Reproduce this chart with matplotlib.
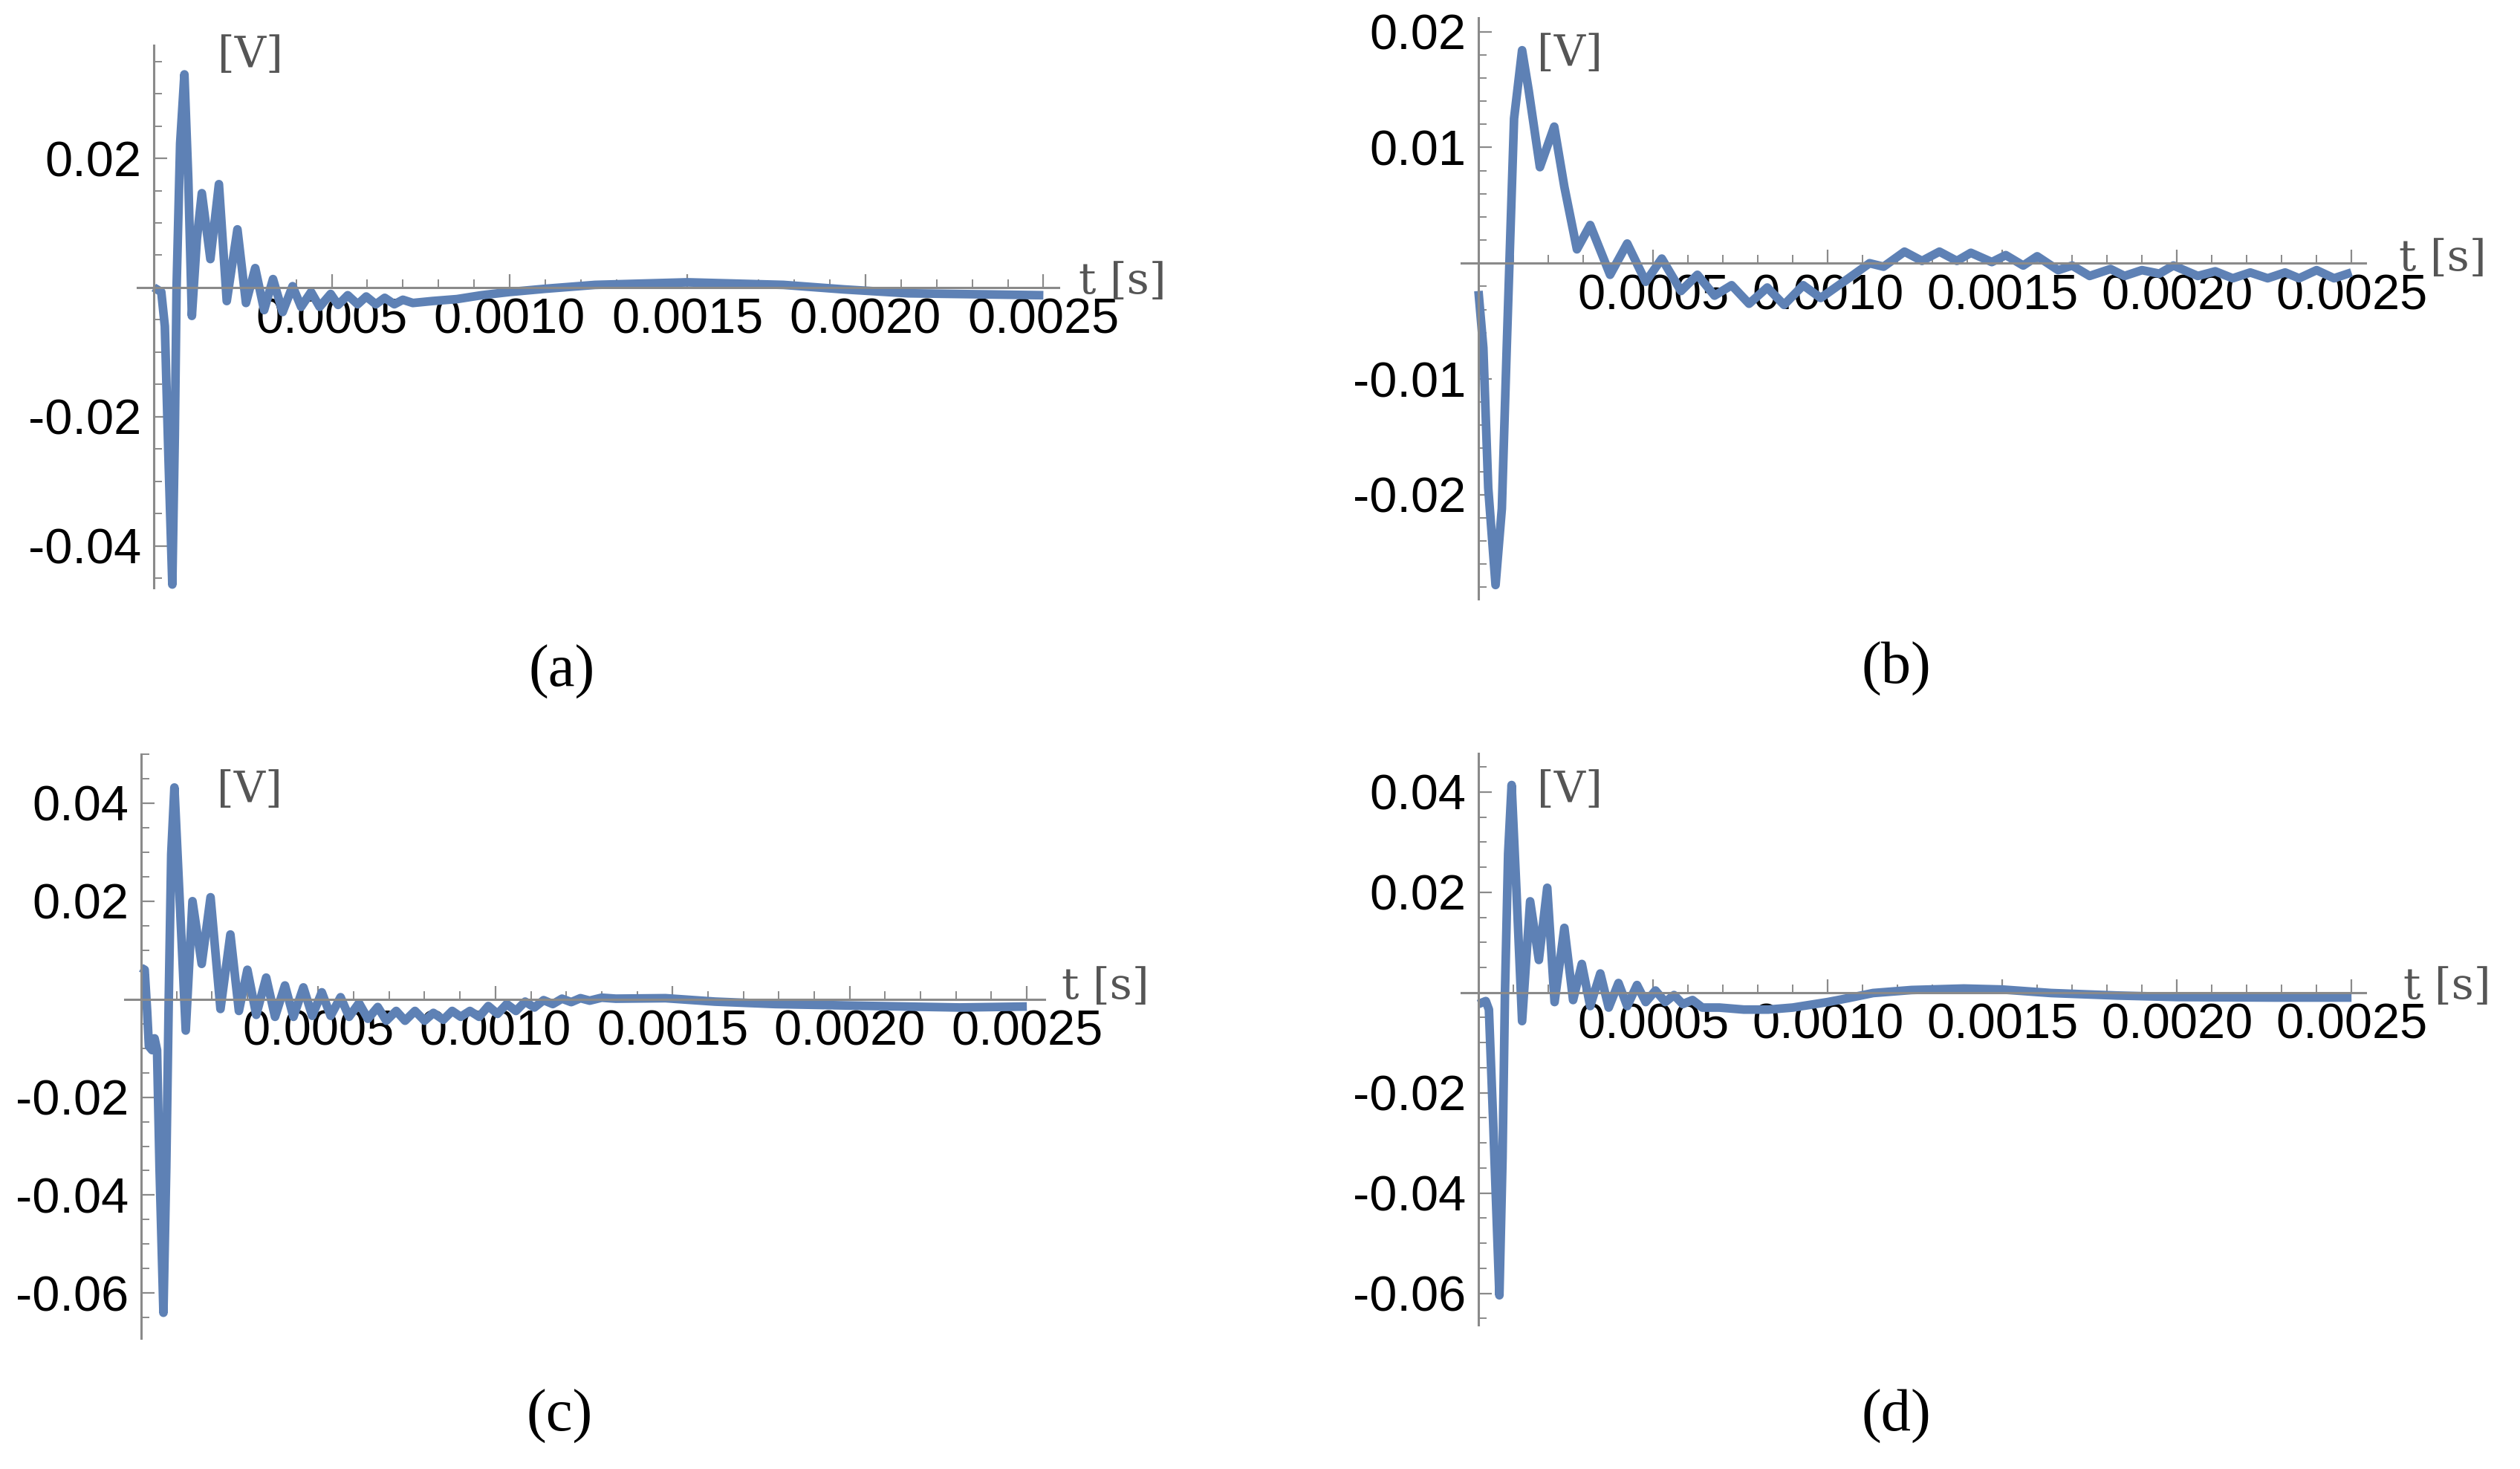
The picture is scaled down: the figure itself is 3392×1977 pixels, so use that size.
import numpy as np
import matplotlib
matplotlib.use("Agg")
import matplotlib.pyplot as plt
from matplotlib.ticker import MultipleLocator, FixedLocator

plt.rcParams['axes.unicode_minus'] = False

# ---- data (t in s, v in V) ----
t_a = [0, 2.1e-5, 3.1e-5, 4.1e-5, 5.2e-5, 5.9e-5, 6.4e-5, 7.4e-5, 8.6e-5, 9.7e-5,
       1.07e-4, 1.21e-4, 1.35e-4, 1.59e-4, 1.83e-4, 2.05e-4, 2.35e-4, 2.59e-4, 2.85e-4, 3.10e-4,
       3.35e-4, 3.62e-4, 3.90e-4, 4.14e-4, 4.42e-4, 4.66e-4, 4.97e-4, 5.18e-4, 5.45e-4, 5.73e-4,
       5.97e-4, 6.24e-4, 6.49e-4, 6.76e-4, 7.00e-4, 7.28e-4, 7.83e-4, 8.52e-4, 9.21e-4, 1.0e-3,
       1.1e-3, 1.24e-3, 1.5e-3, 1.77e-3, 1.94e-3, 2.12e-3, 2.5e-3]
v_a = [0, -0.0007, -0.006, -0.026, -0.0460, -0.023, 0, 0.0223, 0.0330, 0.0166,
       -0.0044, 0.0075, 0.0146, 0.0044, 0.0160, -0.0021, 0.0090, -0.0024, 0.0030, -0.0035,
       0.0013, -0.0038, 0.0002, -0.0030, -0.0007, -0.0030, -0.0010, -0.0027, -0.0012, -0.0026,
       -0.0014, -0.0026, -0.0016, -0.0026, -0.0019, -0.0024, -0.0021, -0.0018, -0.0012, -0.0007,
       -0.0002, 0.0004, 0.0008, 0.0004, -0.0003, -0.0009, -0.0012]

t_b = [0, 1.4e-5, 2.8e-5, 4.9e-5, 6.7e-5, 8.1e-5, 9.2e-5, 1.02e-4, 1.25e-4, 1.44e-4,
       1.76e-4, 2.17e-4, 2.46e-4, 2.82e-4, 3.20e-4, 3.77e-4, 4.26e-4, 4.79e-4, 5.25e-4, 5.80e-4,
       6.27e-4, 6.76e-4, 7.25e-4, 7.75e-4, 8.27e-4, 8.75e-4, 9.3e-4, 9.8e-4, 1.06e-3, 1.12e-3,
       1.16e-3, 1.22e-3, 1.27e-3, 1.32e-3, 1.37e-3, 1.41e-3, 1.47e-3, 1.51e-3, 1.56e-3, 1.60e-3,
       1.66e-3, 1.70e-3, 1.75e-3, 1.81e-3, 1.85e-3, 1.90e-3, 1.95e-3, 1.99e-3, 2.06e-3, 2.11e-3,
       2.16e-3, 2.21e-3, 2.26e-3, 2.31e-3, 2.35e-3, 2.40e-3, 2.45e-3, 2.50e-3]
v_b = [-0.0024, -0.0073, -0.0194, -0.0278, -0.0212, -0.0073, 0.0031, 0.0125, 0.0184, 0.0149,
       0.0083, 0.0118, 0.0066, 0.0012, 0.0033, -0.0010, 0.0017, -0.0016, 0.0004, -0.0024,
       -0.0010, -0.0028, -0.0019, -0.0035, -0.0021, -0.0036, -0.0019, -0.0030, -0.0013, 0.0000,
       -0.0003, 0.0010, 0.0002, 0.0010, 0.0002, 0.0009, 0.0001, 0.0007, -0.0002, 0.0006,
       -0.0006, -0.0002, -0.0011, -0.0005, -0.0011, -0.0006, -0.0009, -0.0002, -0.0011, -0.0007,
       -0.0013, -0.0008, -0.0013, -0.0008, -0.0013, -0.0006, -0.0013, -0.0008]

t_c = [0, 1.0e-5, 1.7e-5, 2.2e-5, 3.1e-5, 3.8e-5, 4.5e-5, 5.2e-5, 6.3e-5, 7.1e-5,
       7.8e-5, 8.5e-5, 9.4e-5, 1.08e-4, 1.26e-4, 1.45e-4, 1.71e-4, 1.96e-4, 2.24e-4, 2.52e-4,
       2.76e-4, 3.00e-4, 3.25e-4, 3.53e-4, 3.78e-4, 4.06e-4, 4.30e-4, 4.58e-4, 4.83e-4, 5.10e-4,
       5.35e-4, 5.63e-4, 5.87e-4, 6.15e-4, 6.40e-4, 6.68e-4, 6.92e-4, 7.20e-4, 7.45e-4, 7.73e-4,
       8.00e-4, 8.25e-4, 8.53e-4, 8.78e-4, 9.02e-4, 9.28e-4, 9.54e-4, 9.80e-4, 1.006e-3, 1.032e-3,
       1.058e-3, 1.084e-3, 1.110e-3, 1.136e-3, 1.162e-3, 1.188e-3, 1.214e-3, 1.240e-3, 1.266e-3, 1.30e-3,
       1.34e-3, 1.48e-3, 1.62e-3, 1.79e-3, 2.0e-3, 2.31e-3, 2.5e-3]
v_c = [0.0064, 0.0060, -0.0024, -0.0096, -0.0104, -0.0080, -0.0104, -0.0344, -0.0640, -0.0344,
       0, 0.0296, 0.0432, 0.0216, -0.0064, 0.0200, 0.0072, 0.0208, -0.0020, 0.0132,
       -0.0024, 0.0060, -0.0032, 0.0044, -0.0036, 0.0028, -0.0036, 0.0024, -0.0034, 0.0014,
       -0.0034, 0.0004, -0.0036, -0.0008, -0.0040, -0.0016, -0.0044, -0.0024, -0.0044, -0.0024,
       -0.0044, -0.0028, -0.0042, -0.0024, -0.0036, -0.0024, -0.0036, -0.0014, -0.0030, -0.0010,
       -0.0024, -0.0005, -0.0017, -0.0002, -0.0010, 0.0001, -0.0006, 0.0002, -0.0003, 0.0003,
       0.0001, 0.0002, -0.0005, -0.0010, -0.0013, -0.0017, -0.0015]

t_d = [0, 2.1e-5, 3.0e-5, 4.2e-5, 6.0e-5, 6.9e-5, 7.6e-5, 8.5e-5, 9.5e-5, 1.09e-4,
       1.25e-4, 1.48e-4, 1.73e-4, 1.97e-4, 2.18e-4, 2.46e-4, 2.71e-4, 2.96e-4, 3.20e-4, 3.49e-4,
       3.73e-4, 4.01e-4, 4.26e-4, 4.54e-4, 4.79e-4, 5.07e-4, 5.35e-4, 5.60e-4, 5.85e-4, 6.13e-4,
       6.41e-4, 6.90e-4, 7.60e-4, 8.30e-4, 9.00e-4, 1.0e-3, 1.06e-3, 1.13e-3, 1.24e-3, 1.39e-3,
       1.50e-3, 1.64e-3, 1.83e-3, 2.0e-3, 2.28e-3, 2.5e-3]
v_d = [-0.0023, -0.0017, -0.0034, -0.0255, -0.0604, -0.0330, 0, 0.0277, 0.0414, 0.0201,
       -0.0057, 0.0182, 0.0065, 0.0209, -0.0019, 0.0129, -0.0015, 0.0057, -0.0027, 0.0038,
       -0.0030, 0.0019, -0.0027, 0.0015, -0.0019, 0.0004, -0.0019, -0.0005, -0.0023, -0.0015,
       -0.0030, -0.0030, -0.0034, -0.0034, -0.0030, -0.0019, -0.0011, -0.0001, 0.0005, 0.0008,
       0.0006, -0.0001, -0.0006, -0.0009, -0.0010, -0.0010]

x_major = [0.0005, 0.0010, 0.0015, 0.0020, 0.0025]
x_labels = ['0.0005', '0.0010', '0.0015', '0.0020', '0.0025']

# ---- layout (pixel boxes in the 3392x1977 image) ----
W, H = 3392, 1977
panels = [
    # t, v, box(x0,x1,y_top,y_bot), xlim, ylim, y majors, y labels, y minor step, [V] pos, t[s] pos, caption pos, caption
    (t_a, v_a, (185, 1425, 61, 791), (-4.6e-5, 0.002543), (-0.0465, 0.0375),
     [-0.04, -0.02, 0.02], ['-0.04', '-0.02', '0.02'], 0.005, (337, 74), (1511, 379), (756, 904), '(a)'),
    (t_b, v_b, (1967, 3184, 24, 806), (-4.9e-5, 0.00254), (-0.029, 0.0212),
     [-0.02, -0.01, 0.01, 0.02], ['-0.02', '-0.01', '0.01', '0.02'], 0.002, (2113, 72), (3288, 348), (2552, 900), '(b)'),
    (t_c, v_c, (168, 1406, 1015, 1801), (-4.6e-5, 0.00255), (-0.0692, 0.050),
     [-0.06, -0.04, -0.02, 0.02, 0.04], ['-0.06', '-0.04', '-0.02', '0.02', '0.04'], 0.005, (336, 1063), (1488, 1328), (753, 1906), '(c)'),
    (t_d, v_d, (1967, 3184, 1014, 1783), (-4.9e-5, 0.00254), (-0.0663, 0.0477),
     [-0.06, -0.04, -0.02, 0.02, 0.04], ['-0.06', '-0.04', '-0.02', '0.02', '0.04'], 0.005, (2113, 1063), (3294, 1328), (2552, 1906), '(d)'),
]

line_color = '#5E81B5'
axis_color = '#8a8a8a'

fig = plt.figure(figsize=(W / 200, H / 200), dpi=200)

for t, v, box, xl, yl, ymaj, ylab, ymin_step, vpos, tpos, cpos, cap in panels:
    x0, x1, yt, yb = box
    ax = fig.add_axes([x0 / W, 1 - yb / H, (x1 - x0) / W, (yb - yt) / H])
    ax.plot(t, v, color=line_color, lw=4.2, solid_joinstyle='round', solid_capstyle='butt', clip_on=False)
    ax.set_xlim(*xl)
    ax.set_ylim(*yl)
    for s in ['top', 'right']:
        ax.spines[s].set_visible(False)
    for s in ['left', 'bottom']:
        ax.spines[s].set_position(('data', 0))
        ax.spines[s].set_color(axis_color)
        ax.spines[s].set_linewidth(1.1)
    ax.patch.set_alpha(0)

    ax.xaxis.set_major_locator(FixedLocator(x_major))
    ax.set_xticklabels(x_labels)
    ax.xaxis.set_minor_locator(MultipleLocator(0.0001))
    ax.yaxis.set_major_locator(FixedLocator(ymaj))
    ax.set_yticklabels(ylab)
    ax.yaxis.set_minor_locator(MultipleLocator(ymin_step))

    ax.tick_params(which='both', direction='in', color=axis_color)
    ax.tick_params(which='major', length=6.5, width=0.8, labelsize=24,
                   labelfontfamily='Liberation Sans', labelcolor='black')
    ax.tick_params(which='minor', length=4.0, width=0.7)
    ax.tick_params(axis='x', which='major', pad=5)
    ax.tick_params(axis='y', which='major', pad=6)

    # axis labels: light serif, like the Mathematica originals
    fig.text(vpos[0] / W, 1 - vpos[1] / H, '[V]', family='DejaVu Serif', fontsize=21,
             color='#555555', ha='center', va='center', fontweight='light')
    fig.text(tpos[0] / W, 1 - tpos[1] / H, 't [s]', family='DejaVu Serif', fontsize=21,
             color='#555555', ha='center', va='center', fontweight='light')
    fig.text(cpos[0] / W, 1 - cpos[1] / H, cap, family='Liberation Serif', fontsize=29,
             color='black', ha='center', va='center')

fig.savefig('out.png', dpi=200, facecolor='white')
